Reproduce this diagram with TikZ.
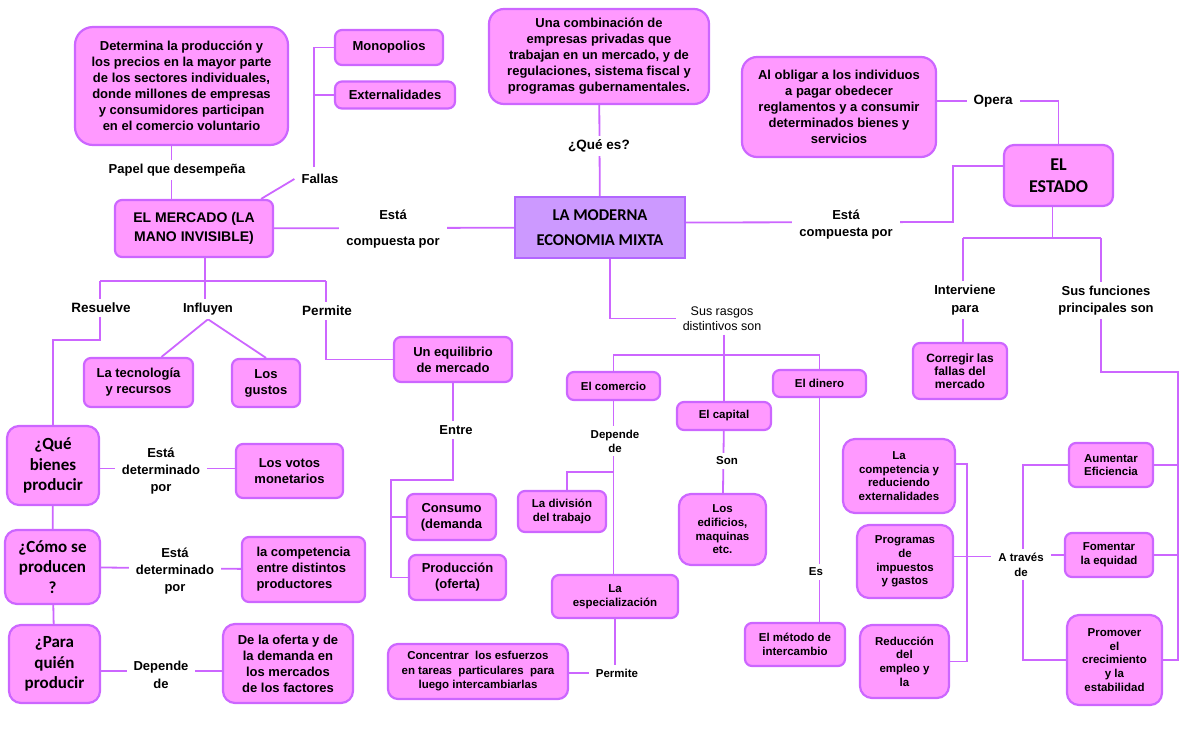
\documentclass[tikz,border=0pt]{standalone}
\usepackage{fontspec}
\setmainfont{Liberation Sans}
\newfontfamily\calib{Carlito}
\usetikzlibrary{backgrounds}
\definecolor{rosa}{HTML}{FF99FF}
\definecolor{lila}{HTML}{CC66FF}
\definecolor{malva}{HTML}{CC99FF}
\definecolor{malvaline}{HTML}{B266FF}

\begin{document}
\begin{tikzpicture}[x=1pt,y=-1pt,
  box/.style={draw=lila, fill=rosa, line width=2.2pt, rounded corners=7pt, align=center, inner sep=2pt, font=\bfseries\fontsize{13}{16}\selectfont},
  sbox/.style={box, font=\bfseries\fontsize{11.5}{13.7}\selectfont},
  cbox/.style={box, rounded corners=12pt, font=\calib\bfseries\fontsize{17}{20.5}\selectfont},
  wh/.style 2 args={minimum width=#1pt, minimum height=#2pt},
  lab/.style={fill=white, align=center, inner xsep=7pt, inner ysep=4pt, font=\bfseries\fontsize{13}{17}\selectfont},
  slab/.style={lab, font=\bfseries\fontsize{11.5}{14.5}\selectfont}]
\useasboundingbox (0,0) rectangle (1200,729);

\node[box, wh={213}{118}, rounded corners=18pt] (papel) at (181.5,86) {Determina la producción y\\los precios en la mayor parte\\de los sectores individuales,\\donde millones de empresas\\y consumidores participan\\en el comercio voluntario};
\node[box, wh={108}{35}] (mono) at (389,47.5) {Monopolios};
\node[box, wh={120}{27}] (ext) at (395,95) {Externalidades};
\node[box, wh={158}{57}, font=\bfseries\fontsize{14}{19}\selectfont] (mercado) at (194,228.5) {EL MERCADO (LA\\MANO INVISIBLE)};
\node[draw=malvaline, fill=malva, line width=2.2pt, wh={170}{61}, align=center, font=\calib\bfseries\fontsize{16.5}{25}\selectfont] (moderna) at (600,227.5) {LA MODERNA\\ECONOMIA MIXTA};
\node[box, wh={220}{95}, rounded corners=15pt] (combina) at (599,56.5) {Una combinación de\\empresas privadas que\\trabajan en un mercado, y de\\regulaciones, sistema fiscal y\\programas gubernamentales.};
\node[box, wh={194}{100}, rounded corners=15pt] (obligar) at (839,107) {Al obligar a los individuos\\a pagar obedecer\\reglamentos y a consumir\\determinados bienes y\\servicios};
\node[cbox, wh={109}{61}, rounded corners=10pt, font=\calib\bfseries\fontsize{18}{22}\selectfont] (estado) at (1058.5,175.5) {EL\\ESTADO};

\node[sbox, wh={94}{56}, font=\bfseries\fontsize{12}{13}\selectfont] (corregir) at (960,371) {Corregir las\\fallas del\\mercado};
\node[sbox, wh={84}{44}] (aumentar) at (1111,465) {Aumentar\\Eficiencia};
\node[sbox, wh={88}{44}] (fomentar) at (1109,555) {Fomentar\\la equidad};
\node[sbox, wh={95}{90}, rounded corners=12pt] (promover) at (1114.5,660) {Promover\\el\\crecimiento\\y la\\estabilidad};
\node[sbox, wh={112}{74}, rounded corners=12pt] (compet) at (899,476) {La\\competencia y\\reduciendo\\externalidades};
\node[sbox, wh={96}{73}, rounded corners=12pt] (progr) at (905,561.5) {Programas\\de\\impuestos\\y gastos};
\node[sbox, wh={89}{73}, rounded corners=12pt] (reduc) at (904.5,661.5) {Reducción\\del\\empleo y\\la};

\node[sbox, wh={93}{28}] (comercio) at (613.5,386) {El comercio};
\node[sbox, wh={94}{28}] (capital) at (724,416) {El capital};
\node[sbox, wh={93}{27}] (dinero) at (819.5,383.5) {El dinero};
\node[sbox, wh={88}{41}] (division) at (562,511.5) {La división\\del trabajo};
\node[sbox, wh={126}{43}] (especial) at (615,596.5) {La\\especialización};
\node[sbox, wh={180}{55}, rounded corners=10pt, font=\bfseries\fontsize{11.5}{14.5}\selectfont] (concentrar) at (478,671.5) {Concentrar\ \ los esfuerzos\\en tareas\ \ particulares\ \ para\\luego intercambiarlas};
\node[sbox, wh={87}{71}, rounded corners=12pt] (edificios) at (722.5,529.5) {Los\\edificios,\\maquinas\\etc.};
\node[sbox, wh={100}{43}] (metodo) at (795,644.5) {El método de\\intercambio};

\node[box, wh={109}{49}] (tecno) at (138.5,382.5) {La tecnología\\y recursos};
\node[box, wh={68}{48}] (gustos) at (266,383) {Los\\gustos};
\node[box, wh={118}{45}] (equil) at (453,359.5) {Un equilibrio\\de mercado};
\node[box, wh={89}{46}] (consumo) at (451.5,517) {Consumo\\(demanda};
\node[box, wh={97}{45}] (produccion) at (457.5,577.5) {Producción\\(oferta)};
\node[cbox, wh={92}{79}] (quebienes) at (53,465.5) {¿Qué\\bienes\\producir};
\node[box, wh={107}{54}] (votos) at (289.5,471) {Los votos\\monetarios};
\node[cbox, wh={95}{74}] (como) at (52.5,567) {¿Cómo se\\producen\\?};
\node[box, wh={123}{65}, align=left] (competencia) at (303.5,569.5) {la competencia\\entre distintos\\productores};
\node[cbox, wh={91}{78}] (para) at (54.5,664) {¿Para\\quién\\producir};
\node[box, wh={130}{79}, rounded corners=12pt] (oferta) at (288,663.5) {De la oferta y de\\la demanda en\\los mercados\\de los factores};

\node[lab] (lpapel) at (177,170) {Papel que desempeña};
\node[lab] (lfallas) at (320,179) {Fallas};
\node[lab] (lcomp1) at (393,229) {Está\\[9pt]compuesta por};
\node[lab, font=\bfseries\fontsize{13.5}{17}\selectfont] (lque) at (599,146) {¿Qué es?};
\node[lab] (lcomp2) at (846,225) {Está\\compuesta por};
\node[lab, font=\bfseries\fontsize{13.5}{17}\selectfont] (lopera) at (993,101) {Opera};
\node[lab, font=\bfseries\fontsize{13}{18}\selectfont] (linterv) at (965,300) {Interviene\\para};
\node[lab] (lfunc) at (1106,300.5) {Sus funciones\\principales son};
\node[slab, font=\bfseries\fontsize{11.5}{15}\selectfont] (latraves) at (1021,564.5) {A través\\de};
\node[slab, font=\fontsize{12.5}{15}\selectfont] (lrasgos) at (722,318.5) {Sus rasgos\\distintivos son};
\node[slab, font=\bfseries\fontsize{11.5}{14}\selectfont] (ldep2) at (615,441) {Depende\\de};
\node[slab] (lson) at (727,461) {Son};
\node[slab] (les) at (816,572) {Es};
\node[slab] (lpermite2) at (617,673) {Permite};
\node[lab, font=\bfseries\fontsize{13.5}{17}\selectfont] (lresuelve) at (101,308) {Resuelve};
\node[lab] (linfluyen) at (208,309) {Influyen};
\node[lab, font=\bfseries\fontsize{13.5}{17}\selectfont] (lpermite1) at (327,311) {Permite};
\node[lab] (lentre) at (456,430) {Entre};
\node[lab] (ldet1) at (161,471) {Está\\determinado\\por};
\node[lab] (ldet2) at (175,571) {Está\\determinado\\por};
\node[lab, font=\bfseries\fontsize{13}{18}\selectfont] (ldep1) at (161,675) {Depende\\de};

\coordinate (fk) at (314,167);
\coordinate (ej) at (953,222);
\coordinate (ebl) at (963,238);
\coordinate (ebr) at (1101,238);
\coordinate (fr) at (1178,372);
\coordinate (tv) at (1023,465);
\coordinate (tl) at (967,464);
\coordinate (rh) at (616,355);
\coordinate (dj) at (614,472);
\coordinate (ml) at (100,281);
\coordinate (mr) at (326,281);
\coordinate (rv) at (100,340);
\coordinate (cl) at (391,480);

\begin{scope}[on background layer={color=lila, line width=1.8pt}]
\draw ([xshift=-10pt]papel.south) -- ([xshift=-10pt]papel.south |- mercado.north);
\draw ([xshift=-13pt]mercado.north east) -- (lfallas.west);
\draw (fk) |- (mono);
\draw (fk |- ext) -- (ext);
\draw (mercado) -- (moderna);
\draw (moderna) -- (combina);
\draw ([yshift=5pt]moderna.east) -- (ej) |- ([yshift=9.5pt]estado.west);
\draw ([yshift=6pt]obligar.east) -| (estado.north);
\draw ([xshift=-6pt]estado.south) -- ([xshift=-6pt]estado.south |- ebl);
\draw (ebl) -- (ebr);
\draw (ebl) -- (ebl |- corregir.north);
\draw (ebr) |- (fr) -- (fr |- promover.east) -- (promover.east);
\draw (fr |- aumentar) -- (aumentar);
\draw (fr |- fomentar) -- (fomentar);
\draw (aumentar.west) -- (tv) -- (tv |- promover.west) -- (promover.west);
\draw (fomentar.west) -- (fomentar.west -| tv);
\draw ([yshift=12pt]compet.east) -| (tl |- reduc.east) -- (reduc.east);
\draw ([yshift=5pt]progr.east) -- ([yshift=5pt]progr.east -| latraves.west);
\draw ([xshift=10pt]moderna.south) |- (lrasgos.west);
\draw (lrasgos.south -| capital.north) -- (capital.north);
\draw (comercio.north) |- (rh) -| (dinero.north);
\draw (comercio.south) -- (comercio.south |- especial.north);
\draw (dj) -| ([xshift=5pt]division.north);
\draw (especial.south) -- (especial.south |- lpermite2.north);
\draw (lpermite2.west) -- (lpermite2.west -| concentrar.east);
\draw (capital) -- (edificios);
\draw (dinero.south) -- (dinero.south |- metodo.north);
\draw ([xshift=11pt]mercado.south) -- ([xshift=11pt]mercado.south |- linfluyen.north);
\draw (ml) -- (mr);
\draw (ml) -- (rv) -| (quebienes.north);
\draw (linfluyen.south) -- ([xshift=23pt]tecno.north);
\draw (linfluyen.south) -- (gustos.north);
\draw (mr) |- (equil.west);
\draw (equil.south) |- (cl) -- (cl |- produccion.west) -- (produccion.west);
\draw (cl |- consumo.west) -- (consumo.west);
\draw ([yshift=-3pt]quebienes.east) -- ([yshift=-3pt]quebienes.east -| votos.west);
\draw (quebienes) -- (como);
\draw (como) -- (competencia);
\draw (como) -- (para);
\draw ([yshift=-7pt]para.east) -- ([yshift=-7pt]para.east -| oferta.west);
\end{scope}
\end{tikzpicture}
\end{document}
